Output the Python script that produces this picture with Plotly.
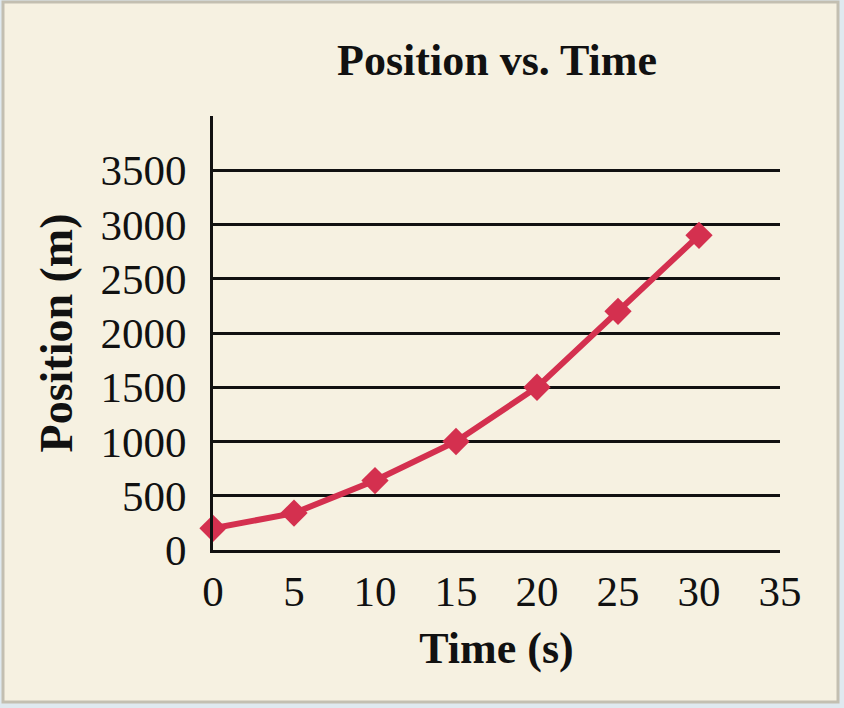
import plotly.graph_objects as go

time_s = [0, 5, 10, 15, 20, 25, 30]
position_m = [200, 340, 640, 1000, 1500, 2200, 2900]
y_ticks = [0, 500, 1000, 1500, 2000, 2500, 3000, 3500, 4000]
y_tick_text = ["0", "500", "1000", "1500", "2000", "2500", "3000", "3500", ""]
x_ticks = [0, 5, 10, 15, 20, 25, 30, 35]

W, H = 844, 708
L, R, T, B = 213, 64, 116, 158
pw, ph = W - L - R, H - T - B

def px(xp):
    return (xp - L) / pw

def py(yp):
    return (H - B - yp) / ph

fig = go.Figure()
fig.add_trace(go.Scatter(
    x=time_s, y=position_m, mode="lines+markers",
    line=dict(color="#d4304f", width=6),
    marker=dict(symbol="diamond", size=21, color="#d4304f"),
    cliponaxis=False, showlegend=False,
))

serif = "Liberation Serif"
fig.update_layout(
    width=W, height=H,
    margin=dict(l=L, r=R, t=T, b=B),
    paper_bgcolor="#dfe9ef",
    plot_bgcolor="rgba(0,0,0,0)",
    title=dict(text="<b>Position vs. Time</b>", xref="container", x=497 / W,
               xanchor="center", yref="container", y=1 - 60 / H, yanchor="middle",
               font=dict(family=serif, size=44, color="#111111")),
    xaxis=dict(range=[0, 35], tickvals=x_ticks, showgrid=False, zeroline=False,
               showline=True, linecolor="#111111", linewidth=3, ticks="",
               ticklabelstandoff=1,
               tickfont=dict(family=serif, size=43, color="#111111"),
               title=dict(text="<b>Time (s)</b>", standoff=19,
                          font=dict(family=serif, size=44, color="#111111"))),
    yaxis=dict(range=[0, 4000], tickvals=y_ticks, ticktext=y_tick_text,
               showgrid=True, gridcolor="#111111", gridwidth=3, zeroline=False,
               showline=True, linecolor="#111111", linewidth=3, ticks="",
               ticklabelstandoff=15,
               tickfont=dict(family=serif, size=43, color="#111111"),
               title=dict(text="<b>Position (m)</b>", standoff=14,
                          font=dict(family=serif, size=46, color="#111111"))),
)

# cream card with grey frame
fig.add_shape(type="rect", xref="paper", yref="paper", layer="below",
              x0=px(3), x1=px(838), y0=py(702), y1=py(2),
              fillcolor="#f6f1e1", line=dict(color="#c3bfb1", width=3))

fig.write_html("out.html")
